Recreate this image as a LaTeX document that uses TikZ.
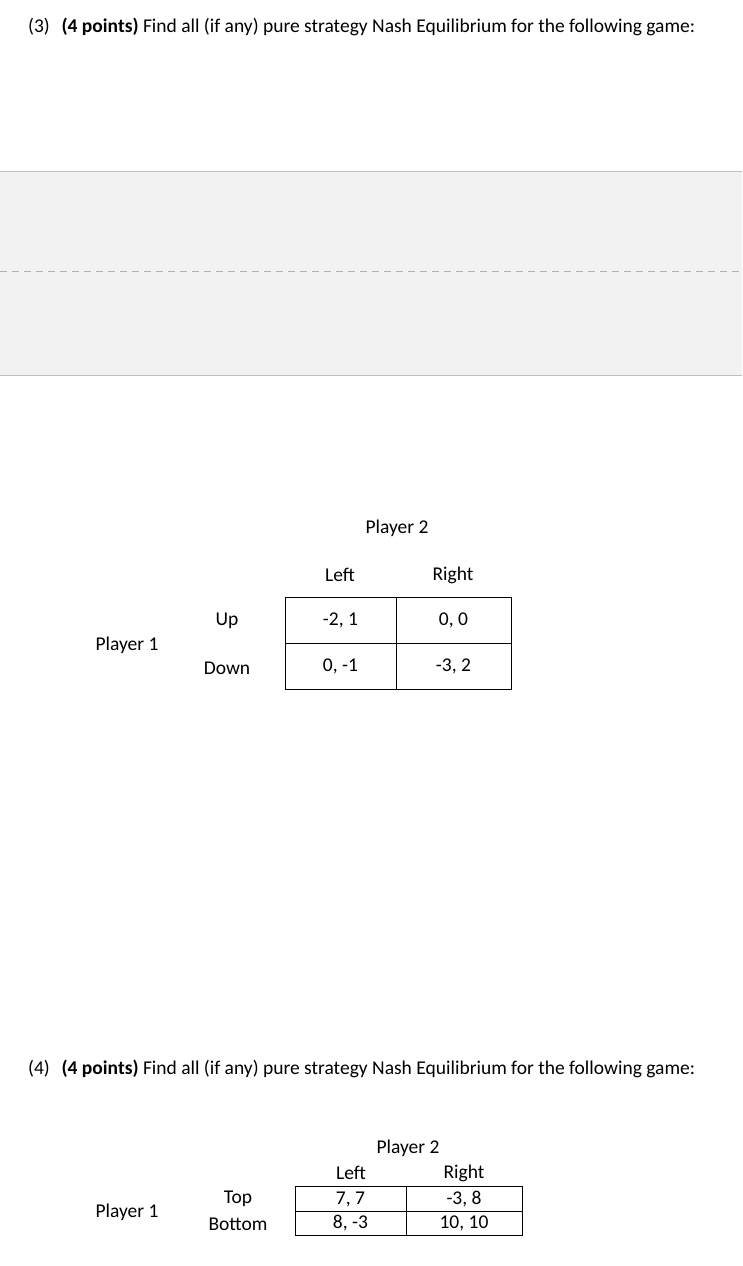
\documentclass[tikz,border=0pt]{standalone}
\usepackage{fontspec}
\setmainfont{Carlito}
\begin{document}
\begin{tikzpicture}[x=1pt,y=-1pt,every node/.style={font=\fontsize{19.5}{23}\selectfont,inner sep=0pt},
 cell/.style={draw,line width=0.8pt,minimum width=#1,minimum height=46pt}]
\useasboundingbox (0,0) rectangle (742,1266);
\fill[white] (0,0) rectangle (742,1266);
\fill[gray!10] (0,171) rectangle (742,375);
\draw[gray!50] (0,171) -- (742,171);
\draw[gray!50] (0,375) -- (742,375);
\draw[gray!60,dashed,dash pattern=on 7pt off 5pt] (0,271) -- (742,271);
\node[anchor=west] (t3) at (28,27) {(3)\hspace{0.6em}\textbf{(4 points)} Find all (if any) pure strategy Nash Equilibrium for the following game:};
\node (p2a) at (397,528) {Player 2};
\node (la) at (340,575) {Left};
\node (ra) at (453,575) {Right};
\node (ua) at (227,621) {Up};
\node (da) at (227,668) {Down};
\node (p1a) at (127,645) {Player 1};
\node[cell=111pt] (c11) at (340.5,620) {-2, 1};
\node[cell=115pt] (c12) at (453.5,620) {0, 0};
\node[cell=111pt] (c21) at (340.5,666) {0, -1};
\node[cell=115pt] (c22) at (453.5,666) {-3, 2};
\node[anchor=west] (t4) at (28,1069) {(4)\hspace{0.6em}\textbf{(4 points)} Find all (if any) pure strategy Nash Equilibrium for the following game:};
\node (p2b) at (408,1148) {Player 2};
\node (lb) at (351,1173) {Left};
\node (rb) at (464,1173) {Right};
\node (tb) at (238,1199) {Top};
\node (bb) at (238,1224) {Bottom};
\node (p1b) at (127,1212) {Player 1};
\node[cell=111pt,minimum height=24.5pt] (d11) at (350.5,1199) {7, 7};
\node[cell=116pt,minimum height=24.5pt] (d12) at (464,1199) {-3, 8};
\node[cell=111pt,minimum height=24.5pt] (d21) at (350.5,1223.5) {8, -3};
\node[cell=116pt,minimum height=24.5pt] (d22) at (464,1223.5) {10, 10};
\end{tikzpicture}
\end{document}
